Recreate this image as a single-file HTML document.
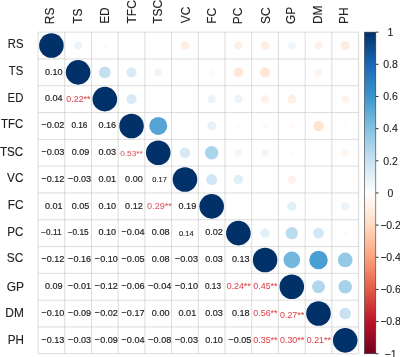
<!DOCTYPE html><html><head><meta charset="utf-8"><title>Correlation plot</title><style>html,body{margin:0;padding:0;background:#fff}body{width:400px;height:357px;overflow:hidden}svg{display:block}</style></head><body>
<svg width="400" height="357" viewBox="0 0 400 357" font-family="Liberation Sans, Arial, Helvetica, sans-serif">
<rect width="400" height="357" fill="#fff"/>
<defs><linearGradient id="cb" x1="0" y1="0" x2="0" y2="1">
<stop offset="0%" stop-color="#003169"/>
<stop offset="10%" stop-color="#1968b8"/>
<stop offset="20%" stop-color="#3a96cd"/>
<stop offset="30%" stop-color="#84c2e2"/>
<stop offset="40%" stop-color="#c8e2f2"/>
<stop offset="50%" stop-color="#ffffff"/>
<stop offset="60%" stop-color="#ffdac3"/>
<stop offset="70%" stop-color="#fda27a"/>
<stop offset="80%" stop-color="#e35b45"/>
<stop offset="90%" stop-color="#ba1428"/>
<stop offset="100%" stop-color="#71001f"/>
</linearGradient></defs>
<path d="M38.05 32.15V353.75M38.05 32.15H358.57M64.76 32.15V353.75M38.05 58.95H358.57M91.47 32.15V353.75M38.05 85.75H358.57M118.18 32.15V353.75M38.05 112.55H358.57M144.89 32.15V353.75M38.05 139.35H358.57M171.60 32.15V353.75M38.05 166.15H358.57M198.31 32.15V353.75M38.05 192.95H358.57M225.02 32.15V353.75M38.05 219.75H358.57M251.73 32.15V353.75M38.05 246.55H358.57M278.44 32.15V353.75M38.05 273.35H358.57M305.15 32.15V353.75M38.05 300.15H358.57M331.86 32.15V353.75M38.05 326.95H358.57M358.57 32.15V353.75M38.05 353.75H358.57" stroke="#c4c4c4" stroke-width="0.6" fill="none"/>
<circle cx="51.41" cy="45.55" r="12.29" fill="#003169"/>
<circle cx="78.11" cy="45.55" r="4.06" fill="#e4f0f8" fill-opacity="0.73"/>
<circle cx="104.83" cy="45.55" r="2.66" fill="#f4f9fc" fill-opacity="0.55"/>
<circle cx="131.53" cy="45.55" r="1.95" fill="#fffbf9" fill-opacity="0.45"/>
<circle cx="158.25" cy="45.55" r="2.34" fill="#fff9f6" fill-opacity="0.50"/>
<circle cx="184.95" cy="45.55" r="4.42" fill="#ffe9db" fill-opacity="0.77"/>
<circle cx="211.67" cy="45.55" r="1.45" fill="#fcfefe" fill-opacity="0.39"/>
<circle cx="238.38" cy="45.55" r="4.24" fill="#ffebde" fill-opacity="0.75"/>
<circle cx="265.08" cy="45.55" r="4.42" fill="#ffe9db" fill-opacity="0.77"/>
<circle cx="291.80" cy="45.55" r="3.86" fill="#e6f2f9" fill-opacity="0.70"/>
<circle cx="318.50" cy="45.55" r="4.06" fill="#ffece1" fill-opacity="0.73"/>
<circle cx="345.22" cy="45.55" r="4.59" fill="#ffe7d8" fill-opacity="0.80"/>
<circle cx="78.11" cy="72.35" r="12.29" fill="#003169"/>
<circle cx="104.83" cy="72.35" r="5.90" fill="#c1dff0" fill-opacity="0.97"/>
<circle cx="131.53" cy="72.35" r="5.07" fill="#d3e8f5" fill-opacity="0.86"/>
<circle cx="158.25" cy="72.35" r="3.86" fill="#e6f2f9" fill-opacity="0.70"/>
<circle cx="184.95" cy="72.35" r="2.34" fill="#fff9f6" fill-opacity="0.50"/>
<circle cx="211.67" cy="72.35" r="2.94" fill="#f1f8fc" fill-opacity="0.58"/>
<circle cx="238.38" cy="72.35" r="4.91" fill="#ffe3d2" fill-opacity="0.84"/>
<circle cx="265.08" cy="72.35" r="5.07" fill="#ffe1cf" fill-opacity="0.86"/>
<circle cx="291.80" cy="72.35" r="1.45" fill="#fffdfc" fill-opacity="0.39"/>
<circle cx="318.50" cy="72.35" r="3.86" fill="#ffeee4" fill-opacity="0.70"/>
<circle cx="345.22" cy="72.35" r="2.34" fill="#fff9f6" fill-opacity="0.50"/>
<circle cx="104.83" cy="99.15" r="12.29" fill="#003169"/>
<circle cx="131.53" cy="99.15" r="5.07" fill="#d3e8f5" fill-opacity="0.86"/>
<circle cx="158.25" cy="99.15" r="2.34" fill="#f7fbfd" fill-opacity="0.50"/>
<circle cx="184.95" cy="99.15" r="1.45" fill="#fcfefe" fill-opacity="0.39"/>
<circle cx="211.67" cy="99.15" r="4.06" fill="#e4f0f8" fill-opacity="0.73"/>
<circle cx="238.38" cy="99.15" r="4.06" fill="#e4f0f8" fill-opacity="0.73"/>
<circle cx="265.08" cy="99.15" r="4.06" fill="#ffece1" fill-opacity="0.73"/>
<circle cx="291.80" cy="99.15" r="4.42" fill="#ffe9db" fill-opacity="0.77"/>
<circle cx="318.50" cy="99.15" r="1.95" fill="#fffbf9" fill-opacity="0.45"/>
<circle cx="345.22" cy="99.15" r="3.86" fill="#ffeee4" fill-opacity="0.70"/>
<circle cx="131.53" cy="125.95" r="12.29" fill="#003169"/>
<circle cx="158.25" cy="125.95" r="9.02" fill="#54a5d4"/>
<circle cx="211.67" cy="125.95" r="4.42" fill="#deeef7" fill-opacity="0.77"/>
<circle cx="238.38" cy="125.95" r="2.66" fill="#fff8f3" fill-opacity="0.55"/>
<circle cx="265.08" cy="125.95" r="2.94" fill="#fff6f0" fill-opacity="0.58"/>
<circle cx="291.80" cy="125.95" r="3.20" fill="#fff4ed" fill-opacity="0.62"/>
<circle cx="318.50" cy="125.95" r="5.21" fill="#ffe0cc" fill-opacity="0.88"/>
<circle cx="345.22" cy="125.95" r="2.66" fill="#fff8f3" fill-opacity="0.55"/>
<circle cx="158.25" cy="152.75" r="12.29" fill="#003169"/>
<circle cx="184.95" cy="152.75" r="5.21" fill="#d0e6f4" fill-opacity="0.88"/>
<circle cx="211.67" cy="152.75" r="6.73" fill="#a9d4eb"/>
<circle cx="238.38" cy="152.75" r="3.66" fill="#e9f3fa" fill-opacity="0.68"/>
<circle cx="265.08" cy="152.75" r="3.66" fill="#e9f3fa" fill-opacity="0.68"/>
<circle cx="291.80" cy="152.75" r="2.66" fill="#fff8f3" fill-opacity="0.55"/>
<circle cx="345.22" cy="152.75" r="3.66" fill="#fff0e7" fill-opacity="0.68"/>
<circle cx="184.95" cy="179.55" r="12.29" fill="#003169"/>
<circle cx="211.67" cy="179.55" r="5.50" fill="#cbe3f3" fill-opacity="0.91"/>
<circle cx="238.38" cy="179.55" r="4.75" fill="#d8ebf6" fill-opacity="0.82"/>
<circle cx="265.08" cy="179.55" r="2.34" fill="#fff9f6" fill-opacity="0.50"/>
<circle cx="291.80" cy="179.55" r="4.06" fill="#ffece1" fill-opacity="0.73"/>
<circle cx="318.50" cy="179.55" r="1.45" fill="#fcfefe" fill-opacity="0.39"/>
<circle cx="345.22" cy="179.55" r="2.34" fill="#fff9f6" fill-opacity="0.50"/>
<circle cx="211.67" cy="206.35" r="12.29" fill="#003169"/>
<circle cx="238.38" cy="206.35" r="1.95" fill="#fafcfe" fill-opacity="0.45"/>
<circle cx="265.08" cy="206.35" r="2.34" fill="#f7fbfd" fill-opacity="0.50"/>
<circle cx="291.80" cy="206.35" r="4.59" fill="#dbecf7" fill-opacity="0.80"/>
<circle cx="318.50" cy="206.35" r="2.34" fill="#f7fbfd" fill-opacity="0.50"/>
<circle cx="345.22" cy="206.35" r="4.06" fill="#e4f0f8" fill-opacity="0.73"/>
<circle cx="238.38" cy="233.15" r="12.29" fill="#003169"/>
<circle cx="265.08" cy="233.15" r="4.59" fill="#dbecf7" fill-opacity="0.80"/>
<circle cx="291.80" cy="233.15" r="6.15" fill="#badcef"/>
<circle cx="318.50" cy="233.15" r="5.36" fill="#cee5f3" fill-opacity="0.90"/>
<circle cx="345.22" cy="233.15" r="2.94" fill="#fff6f0" fill-opacity="0.58"/>
<circle cx="265.08" cy="259.95" r="12.29" fill="#003169"/>
<circle cx="291.80" cy="259.95" r="8.33" fill="#72b7dd"/>
<circle cx="318.50" cy="259.95" r="9.26" fill="#499fd1"/>
<circle cx="345.22" cy="259.95" r="7.37" fill="#95cae6"/>
<circle cx="291.80" cy="286.75" r="12.29" fill="#003169"/>
<circle cx="318.50" cy="286.75" r="6.51" fill="#b0d7ec"/>
<circle cx="345.22" cy="286.75" r="6.84" fill="#a6d2ea"/>
<circle cx="318.50" cy="313.55" r="12.29" fill="#003169"/>
<circle cx="345.22" cy="313.55" r="5.77" fill="#c5e0f1" fill-opacity="0.95"/>
<circle cx="345.22" cy="340.35" r="12.29" fill="#003169"/>
<text transform="translate(53.80 74.50) scale(1 1.09)" font-size="9.1" text-anchor="middle" fill="#222" stroke="#222" stroke-width="0.18">0.10</text>
<text transform="translate(53.80 101.30) scale(1 1.09)" font-size="9.1" text-anchor="middle" fill="#222" stroke="#222" stroke-width="0.18">0.04</text>
<text transform="translate(78.41 101.75) scale(1 1.04)" font-size="8.85" text-anchor="middle" fill="#dd434d" stroke="#dd434d" stroke-width="0.05">0.22**</text>
<text transform="translate(52.91 128.10) scale(1 1.09)" font-size="9.1" text-anchor="middle" fill="#222" stroke="#222" stroke-width="0.18">−0.02</text>
<text transform="translate(79.41 128.20) scale(1 1.02)" font-size="8.25" text-anchor="middle" fill="#222" stroke="#222" stroke-width="0.18">0.16</text>
<text transform="translate(107.23 128.10) scale(1 1.09)" font-size="9.1" text-anchor="middle" fill="#222" stroke="#222" stroke-width="0.18">0.16</text>
<text transform="translate(52.91 154.90) scale(1 1.09)" font-size="9.1" text-anchor="middle" fill="#222" stroke="#222" stroke-width="0.18">−0.03</text>
<text transform="translate(80.52 154.90) scale(1 1.09)" font-size="9.1" text-anchor="middle" fill="#222" stroke="#222" stroke-width="0.18">0.09</text>
<text transform="translate(107.23 154.90) scale(1 1.09)" font-size="9.1" text-anchor="middle" fill="#222" stroke="#222" stroke-width="0.18">0.03</text>
<text transform="translate(131.44 155.65) scale(1 0.98)" font-size="8.25" text-anchor="middle" fill="#de5a63" stroke="#de5a63" stroke-width="0.05">0.53**</text>
<text transform="translate(52.91 181.70) scale(1 1.09)" font-size="9.1" text-anchor="middle" fill="#222" stroke="#222" stroke-width="0.18">−0.12</text>
<text transform="translate(79.61 181.70) scale(1 1.09)" font-size="9.1" text-anchor="middle" fill="#222" stroke="#222" stroke-width="0.18">−0.03</text>
<text transform="translate(107.23 181.70) scale(1 1.09)" font-size="9.1" text-anchor="middle" fill="#222" stroke="#222" stroke-width="0.18">0.01</text>
<text transform="translate(133.94 181.70) scale(1 1.09)" font-size="9.1" text-anchor="middle" fill="#222" stroke="#222" stroke-width="0.18">0.00</text>
<text transform="translate(159.55 181.80) scale(1 1.0)" font-size="7.5" text-anchor="middle" fill="#222" stroke="#222" stroke-width="0.12">0.17</text>
<text transform="translate(53.80 208.50) scale(1 1.09)" font-size="9.1" text-anchor="middle" fill="#222" stroke="#222" stroke-width="0.18">0.01</text>
<text transform="translate(80.52 208.50) scale(1 1.09)" font-size="9.1" text-anchor="middle" fill="#222" stroke="#222" stroke-width="0.18">0.05</text>
<text transform="translate(107.23 208.50) scale(1 1.09)" font-size="9.1" text-anchor="middle" fill="#222" stroke="#222" stroke-width="0.18">0.10</text>
<text transform="translate(133.94 208.50) scale(1 1.09)" font-size="9.1" text-anchor="middle" fill="#222" stroke="#222" stroke-width="0.18">0.12</text>
<text transform="translate(159.45 209.35) scale(1 0.95)" font-size="9.1" text-anchor="middle" fill="#de5a63" stroke="#de5a63" stroke-width="0.05">0.29**</text>
<text transform="translate(187.35 208.50) scale(1 1.09)" font-size="9.1" text-anchor="middle" fill="#222" stroke="#222" stroke-width="0.18">0.19</text>
<text transform="translate(51.41 235.40) scale(1 1.02)" font-size="8.25" text-anchor="middle" fill="#222" stroke="#222" stroke-width="0.18">−0.11</text>
<text transform="translate(78.11 235.40) scale(1 1.02)" font-size="8.25" text-anchor="middle" fill="#222" stroke="#222" stroke-width="0.18">−0.15</text>
<text transform="translate(107.23 235.30) scale(1 1.09)" font-size="9.1" text-anchor="middle" fill="#222" stroke="#222" stroke-width="0.18">0.10</text>
<text transform="translate(133.03 235.30) scale(1 1.09)" font-size="9.1" text-anchor="middle" fill="#222" stroke="#222" stroke-width="0.18">−0.04</text>
<text transform="translate(160.65 235.30) scale(1 1.09)" font-size="9.1" text-anchor="middle" fill="#222" stroke="#222" stroke-width="0.18">0.08</text>
<text transform="translate(186.25 235.80) scale(1 1.0)" font-size="7.5" text-anchor="middle" fill="#222" stroke="#222" stroke-width="0.12">0.14</text>
<text transform="translate(214.07 235.30) scale(1 1.09)" font-size="9.1" text-anchor="middle" fill="#222" stroke="#222" stroke-width="0.18">0.02</text>
<text transform="translate(52.91 262.10) scale(1 1.09)" font-size="9.1" text-anchor="middle" fill="#222" stroke="#222" stroke-width="0.18">−0.12</text>
<text transform="translate(79.61 262.10) scale(1 1.09)" font-size="9.1" text-anchor="middle" fill="#222" stroke="#222" stroke-width="0.18">−0.16</text>
<text transform="translate(106.33 262.10) scale(1 1.09)" font-size="9.1" text-anchor="middle" fill="#222" stroke="#222" stroke-width="0.18">−0.10</text>
<text transform="translate(133.03 262.10) scale(1 1.09)" font-size="9.1" text-anchor="middle" fill="#222" stroke="#222" stroke-width="0.18">−0.05</text>
<text transform="translate(160.65 262.10) scale(1 1.09)" font-size="9.1" text-anchor="middle" fill="#222" stroke="#222" stroke-width="0.18">0.08</text>
<text transform="translate(186.45 262.10) scale(1 1.09)" font-size="9.1" text-anchor="middle" fill="#222" stroke="#222" stroke-width="0.18">−0.03</text>
<text transform="translate(214.07 262.10) scale(1 1.09)" font-size="9.1" text-anchor="middle" fill="#222" stroke="#222" stroke-width="0.18">0.03</text>
<text transform="translate(240.78 262.10) scale(1 1.09)" font-size="9.1" text-anchor="middle" fill="#222" stroke="#222" stroke-width="0.18">0.13</text>
<text transform="translate(53.80 288.90) scale(1 1.09)" font-size="9.1" text-anchor="middle" fill="#222" stroke="#222" stroke-width="0.18">0.09</text>
<text transform="translate(79.61 288.90) scale(1 1.09)" font-size="9.1" text-anchor="middle" fill="#222" stroke="#222" stroke-width="0.18">−0.01</text>
<text transform="translate(106.33 288.90) scale(1 1.09)" font-size="9.1" text-anchor="middle" fill="#222" stroke="#222" stroke-width="0.18">−0.12</text>
<text transform="translate(133.03 288.90) scale(1 1.09)" font-size="9.1" text-anchor="middle" fill="#222" stroke="#222" stroke-width="0.18">−0.06</text>
<text transform="translate(159.75 288.90) scale(1 1.09)" font-size="9.1" text-anchor="middle" fill="#222" stroke="#222" stroke-width="0.18">−0.04</text>
<text transform="translate(186.45 288.90) scale(1 1.09)" font-size="9.1" text-anchor="middle" fill="#222" stroke="#222" stroke-width="0.18">−0.10</text>
<text transform="translate(212.97 289.00) scale(1 1.02)" font-size="8.25" text-anchor="middle" fill="#222" stroke="#222" stroke-width="0.18">0.13</text>
<text transform="translate(238.68 289.35) scale(1 1.04)" font-size="8.85" text-anchor="middle" fill="#dd434d" stroke="#dd434d" stroke-width="0.05">0.24**</text>
<text transform="translate(265.38 289.35) scale(1 1.04)" font-size="8.85" text-anchor="middle" fill="#dd434d" stroke="#dd434d" stroke-width="0.05">0.45**</text>
<text transform="translate(52.91 315.70) scale(1 1.09)" font-size="9.1" text-anchor="middle" fill="#222" stroke="#222" stroke-width="0.18">−0.10</text>
<text transform="translate(79.61 315.70) scale(1 1.09)" font-size="9.1" text-anchor="middle" fill="#222" stroke="#222" stroke-width="0.18">−0.09</text>
<text transform="translate(106.33 315.70) scale(1 1.09)" font-size="9.1" text-anchor="middle" fill="#222" stroke="#222" stroke-width="0.18">−0.02</text>
<text transform="translate(133.03 315.70) scale(1 1.09)" font-size="9.1" text-anchor="middle" fill="#222" stroke="#222" stroke-width="0.18">−0.17</text>
<text transform="translate(160.65 315.70) scale(1 1.09)" font-size="9.1" text-anchor="middle" fill="#222" stroke="#222" stroke-width="0.18">0.00</text>
<text transform="translate(187.35 315.70) scale(1 1.09)" font-size="9.1" text-anchor="middle" fill="#222" stroke="#222" stroke-width="0.18">0.01</text>
<text transform="translate(214.07 315.70) scale(1 1.09)" font-size="9.1" text-anchor="middle" fill="#222" stroke="#222" stroke-width="0.18">0.03</text>
<text transform="translate(240.78 315.70) scale(1 1.09)" font-size="9.1" text-anchor="middle" fill="#222" stroke="#222" stroke-width="0.18">0.18</text>
<text transform="translate(265.38 316.45) scale(1 1.04)" font-size="8.85" text-anchor="middle" fill="#dd434d" stroke="#dd434d" stroke-width="0.05">0.56**</text>
<text transform="translate(292.10 318.35) scale(1 1.04)" font-size="8.85" text-anchor="middle" fill="#dd434d" stroke="#dd434d" stroke-width="0.05">0.27**</text>
<text transform="translate(52.91 342.50) scale(1 1.09)" font-size="9.1" text-anchor="middle" fill="#222" stroke="#222" stroke-width="0.18">−0.13</text>
<text transform="translate(79.61 342.50) scale(1 1.09)" font-size="9.1" text-anchor="middle" fill="#222" stroke="#222" stroke-width="0.18">−0.03</text>
<text transform="translate(106.33 342.50) scale(1 1.09)" font-size="9.1" text-anchor="middle" fill="#222" stroke="#222" stroke-width="0.18">−0.09</text>
<text transform="translate(133.03 342.50) scale(1 1.09)" font-size="9.1" text-anchor="middle" fill="#222" stroke="#222" stroke-width="0.18">−0.04</text>
<text transform="translate(159.75 342.50) scale(1 1.09)" font-size="9.1" text-anchor="middle" fill="#222" stroke="#222" stroke-width="0.18">−0.08</text>
<text transform="translate(186.45 342.50) scale(1 1.09)" font-size="9.1" text-anchor="middle" fill="#222" stroke="#222" stroke-width="0.18">−0.03</text>
<text transform="translate(214.07 342.50) scale(1 1.09)" font-size="9.1" text-anchor="middle" fill="#222" stroke="#222" stroke-width="0.18">0.10</text>
<text transform="translate(239.88 342.50) scale(1 1.09)" font-size="9.1" text-anchor="middle" fill="#222" stroke="#222" stroke-width="0.18">−0.05</text>
<text transform="translate(265.38 342.95) scale(1 1.04)" font-size="8.85" text-anchor="middle" fill="#dd434d" stroke="#dd434d" stroke-width="0.05">0.35**</text>
<text transform="translate(292.10 342.95) scale(1 1.04)" font-size="8.85" text-anchor="middle" fill="#dd434d" stroke="#dd434d" stroke-width="0.05">0.30**</text>
<text transform="translate(318.81 342.95) scale(1 1.04)" font-size="8.85" text-anchor="middle" fill="#dd434d" stroke="#dd434d" stroke-width="0.05">0.21**</text>
<text transform="translate(23.50 48.08) scale(0.95 1)" font-size="11.9" text-anchor="end" fill="#222" stroke="#222" stroke-width="0.12">RS</text>
<text transform="translate(54.41 24.15) rotate(-90)" font-size="11.9" text-anchor="start" fill="#222" stroke="#222" stroke-width="0.12">RS</text>
<text transform="translate(23.30 74.98) scale(0.95 1)" font-size="11.9" text-anchor="end" fill="#222" stroke="#222" stroke-width="0.12">TS</text>
<text transform="translate(81.92 23.75) rotate(-90)" font-size="11.9" text-anchor="start" fill="#222" stroke="#222" stroke-width="0.12">TS</text>
<text transform="translate(23.30 101.78) scale(0.95 1)" font-size="11.9" text-anchor="end" fill="#222" stroke="#222" stroke-width="0.12">ED</text>
<text transform="translate(108.53 23.85) rotate(-90)" font-size="11.9" text-anchor="start" fill="#222" stroke="#222" stroke-width="0.12">ED</text>
<text transform="translate(23.30 128.18) scale(0.96 1)" font-size="11.9" text-anchor="end" fill="#222" stroke="#222" stroke-width="0.12">TFC</text>
<text transform="translate(136.13 23.40) rotate(-90)" font-size="11.9" text-anchor="start" fill="#222" stroke="#222" stroke-width="0.12">TFC</text>
<text transform="translate(23.30 155.58) scale(0.98 1)" font-size="11.9" text-anchor="end" fill="#222" stroke="#222" stroke-width="0.12">TSC</text>
<text transform="translate(162.15 23.65) rotate(-90)" font-size="11.9" text-anchor="start" fill="#222" stroke="#222" stroke-width="0.12">TSC</text>
<text transform="translate(23.40 181.98) scale(0.99 1)" font-size="11.9" text-anchor="end" fill="#222" stroke="#222" stroke-width="0.12">VC</text>
<text transform="translate(189.66 23.25) rotate(-90)" font-size="11.9" text-anchor="start" fill="#222" stroke="#222" stroke-width="0.12">VC</text>
<text transform="translate(23.60 209.43) scale(1.0 1)" font-size="11.9" text-anchor="end" fill="#222" stroke="#222" stroke-width="0.12">FC</text>
<text transform="translate(216.07 23.85) rotate(-90)" font-size="11.9" text-anchor="start" fill="#222" stroke="#222" stroke-width="0.12">FC</text>
<text transform="translate(23.50 236.48) scale(0.98 1)" font-size="11.9" text-anchor="end" fill="#222" stroke="#222" stroke-width="0.12">PC</text>
<text transform="translate(242.38 24.15) rotate(-90)" font-size="11.9" text-anchor="start" fill="#222" stroke="#222" stroke-width="0.12">PC</text>
<text transform="translate(23.40 261.88) scale(1.0 1)" font-size="11.9" text-anchor="end" fill="#222" stroke="#222" stroke-width="0.12">SC</text>
<text transform="translate(270.18 23.95) rotate(-90)" font-size="11.9" text-anchor="start" fill="#222" stroke="#222" stroke-width="0.12">SC</text>
<text transform="translate(24.10 290.78) scale(1.01 1)" font-size="11.9" text-anchor="end" fill="#222" stroke="#222" stroke-width="0.12">GP</text>
<text transform="translate(294.89 24.00) rotate(-90)" font-size="11.9" text-anchor="start" fill="#222" stroke="#222" stroke-width="0.12">GP</text>
<text transform="translate(23.80 317.08) scale(1.0 1)" font-size="11.9" text-anchor="end" fill="#222" stroke="#222" stroke-width="0.12">DM</text>
<text transform="translate(321.50 24.00) rotate(-90)" font-size="11.9" text-anchor="start" fill="#222" stroke="#222" stroke-width="0.12">DM</text>
<text transform="translate(24.00 343.88) scale(0.98 1)" font-size="11.9" text-anchor="end" fill="#222" stroke="#222" stroke-width="0.12">PH</text>
<text transform="translate(348.22 24.00) rotate(-90)" font-size="11.9" text-anchor="start" fill="#222" stroke="#222" stroke-width="0.12">PH</text>
<rect x="364.5" y="32.15" width="11.30" height="321.60" fill="url(#cb)" stroke="#333" stroke-width="0.6"/>
<path d="M375.8 32.15h2.7" stroke="#111" stroke-width="0.85"/>
<text x="390.5" y="35.93" font-size="10.5" text-anchor="middle" fill="#222" stroke="#222" stroke-width="0.1">1</text>
<path d="M375.8 64.31h2.7" stroke="#111" stroke-width="0.85"/>
<text x="390.5" y="68.09" font-size="10.5" text-anchor="middle" fill="#222" stroke="#222" stroke-width="0.1">0.8</text>
<path d="M375.8 96.47h2.7" stroke="#111" stroke-width="0.85"/>
<text x="390.5" y="100.25" font-size="10.5" text-anchor="middle" fill="#222" stroke="#222" stroke-width="0.1">0.6</text>
<path d="M375.8 128.63h2.7" stroke="#111" stroke-width="0.85"/>
<text x="390.5" y="132.41" font-size="10.5" text-anchor="middle" fill="#222" stroke="#222" stroke-width="0.1">0.4</text>
<path d="M375.8 160.79h2.7" stroke="#111" stroke-width="0.85"/>
<text x="390.5" y="164.57" font-size="10.5" text-anchor="middle" fill="#222" stroke="#222" stroke-width="0.1">0.2</text>
<path d="M375.8 192.95h2.7" stroke="#111" stroke-width="0.85"/>
<text x="390.5" y="196.73" font-size="10.5" text-anchor="middle" fill="#222" stroke="#222" stroke-width="0.1">0</text>
<path d="M375.8 225.11h2.7" stroke="#111" stroke-width="0.85"/>
<text x="390.5" y="228.89" font-size="10.5" text-anchor="middle" fill="#222" stroke="#222" stroke-width="0.1">−0.2</text>
<path d="M375.8 257.27h2.7" stroke="#111" stroke-width="0.85"/>
<text x="390.5" y="261.05" font-size="10.5" text-anchor="middle" fill="#222" stroke="#222" stroke-width="0.1">−0.4</text>
<path d="M375.8 289.43h2.7" stroke="#111" stroke-width="0.85"/>
<text x="390.5" y="293.21" font-size="10.5" text-anchor="middle" fill="#222" stroke="#222" stroke-width="0.1">−0.6</text>
<path d="M375.8 321.59h2.7" stroke="#111" stroke-width="0.85"/>
<text x="390.5" y="325.37" font-size="10.5" text-anchor="middle" fill="#222" stroke="#222" stroke-width="0.1">−0.8</text>
<path d="M375.8 353.75h2.7" stroke="#111" stroke-width="0.85"/>
<text x="390.5" y="357.53" font-size="10.5" text-anchor="middle" fill="#222" stroke="#222" stroke-width="0.1">−1</text>
</svg>
</body></html>
